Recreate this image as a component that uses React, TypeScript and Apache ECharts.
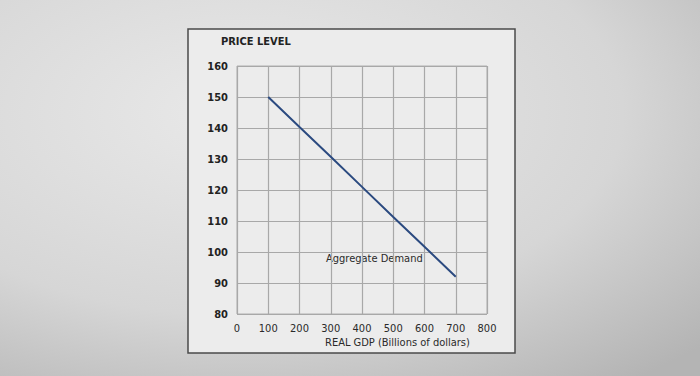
import React, { useEffect, useRef } from "react";
import * as echarts from "echarts";

const gdpValues: number[] = [100, 200, 300, 400, 500, 600, 700];
const priceLevels: number[] = [150, 140.3, 130.7, 121, 111.3, 101.7, 92];
const yTitle = "PRICE LEVEL";
const xTitle = "REAL GDP (Billions of dollars)";
const curveLabel = "Aggregate Demand";

const FONT = "'DejaVu Sans Condensed', 'DejaVu Sans', sans-serif";

export default function App() {
  const ref = useRef<HTMLDivElement>(null);
  useEffect(() => {
    document.body.style.margin = "0";
    if (!ref.current) return;
    const chart = echarts.init(ref.current, null, { renderer: "svg" });
    chart.setOption({
      animation: false,
      backgroundColor: new echarts.graphic.RadialGradient(0.35, 0.3, 0.9, [
        { offset: 0, color: "#e9e9e9" },
        { offset: 0.6, color: "#d6d6d6" },
        { offset: 1, color: "#b4b4b4" },
      ]),
      graphic: [
        {
          type: "rect",
          z: -10,
          shape: { x: 188, y: 29, width: 327, height: 324 },
          style: { fill: "#ececec", stroke: "#4a4a4a", lineWidth: 1.5 },
        },
        {
          type: "text",
          left: 221,
          top: 36,
          style: { text: yTitle, font: `bold 11px ${FONT}`, fill: "#222" },
        },
        {
          type: "text",
          left: 326,
          top: 253,
          style: { text: curveLabel, font: `11px ${FONT}`, fill: "#2a2a2a" },
        },
        {
          type: "text",
          left: 325,
          top: 337,
          style: { text: xTitle, font: `11px ${FONT}`, fill: "#2a2a2a" },
        },
      ],
      grid: { left: 237, top: 66, right: 213, bottom: 62, show: true, borderColor: "#b0b0b0", borderWidth: 1 },
      xAxis: {
        type: "value",
        min: 0,
        max: 800,
        interval: 100,
        axisLine: { show: false },
        axisTick: { show: false },
        splitLine: { show: true, lineStyle: { color: "#a8a8a8", width: 1.2 } },
        axisLabel: { color: "#2a2a2a", fontFamily: FONT, fontSize: 11, margin: 9 },
      },
      yAxis: {
        type: "value",
        min: 80,
        max: 160,
        interval: 10,
        axisLine: { show: false },
        axisTick: { show: false },
        splitLine: { show: true, lineStyle: { color: "#a8a8a8", width: 1.2 } },
        axisLabel: { color: "#222", fontFamily: FONT, fontSize: 11, fontWeight: "bold", margin: 9 },
      },
      series: [
        {
          type: "line",
          data: gdpValues.map((g, i) => [g, priceLevels[i]]),
          showSymbol: false,
          lineStyle: { color: "#2b4a80", width: 2 },
        },
      ],
    });
    return () => chart.dispose();
  }, []);
  return <div ref={ref} style={{ width: 700, height: 376 }} />;
}
